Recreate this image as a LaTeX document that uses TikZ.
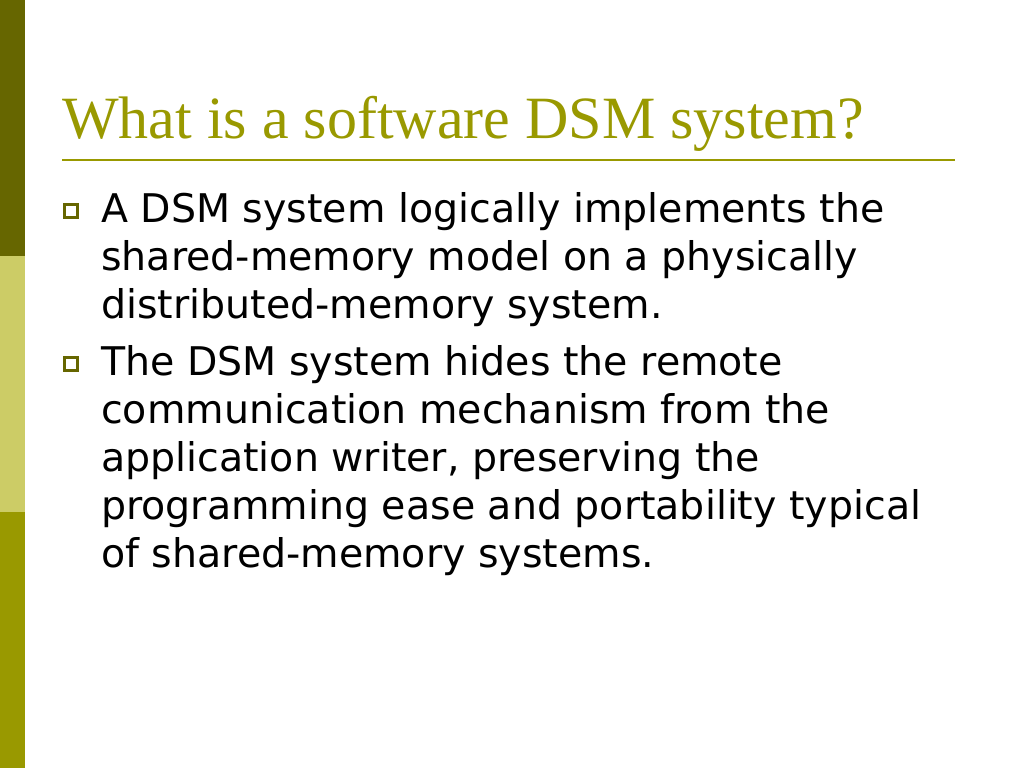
\documentclass[tikz,border=0pt]{standalone}
\usepackage{fontspec}
\setmainfont{Liberation Serif}
\newfontfamily\bodyfont{DejaVu Sans}
\definecolor{olive}{HTML}{999900}
\definecolor{darkolive}{HTML}{666600}
\definecolor{lightolive}{HTML}{CCCC66}
\begin{document}
\begin{tikzpicture}[x=1pt,y=-1pt,
  body/.style={anchor=base west,inner sep=0,font=\bodyfont\fontsize{39.5}{44}\selectfont},
  bul/.style={draw=darkolive,line width=3pt,minimum size=13pt,inner sep=0}]
\useasboundingbox (0,0) rectangle (1024,768);
\fill[white] (0,0) rectangle (1024,768);
\fill[darkolive] (0,0) rectangle (25,256);
\fill[lightolive] (0,256) rectangle (25,512);
\fill[olive] (0,512) rectangle (25,768);
\node[anchor=base west,inner sep=0,text=olive,font=\fontsize{60}{66}\selectfont] (title) at (62,138) {What is a software DSM system?};
\draw[olive,line width=1.5pt] (62,160) -- (955,160);
\node[bul] (b1) at (71,211) {};
\node[bul] (b2) at (71,364) {};
\node[body] (l1) at (101,222) {A DSM system logically implements the};
\node[body] (l2) at (101,270) {shared-memory model on a physically};
\node[body] (l3) at (101,318) {distributed-memory system.};
\node[body] (l4) at (101,375) {The DSM system hides the remote};
\node[body] (l5) at (101,423) {communication mechanism from the};
\node[body] (l6) at (101,471) {application writer, preserving the};
\node[body] (l7) at (101,519) {programming ease and portability typical};
\node[body] (l8) at (101,567) {of shared-memory systems.};
\end{tikzpicture}
\end{document}
